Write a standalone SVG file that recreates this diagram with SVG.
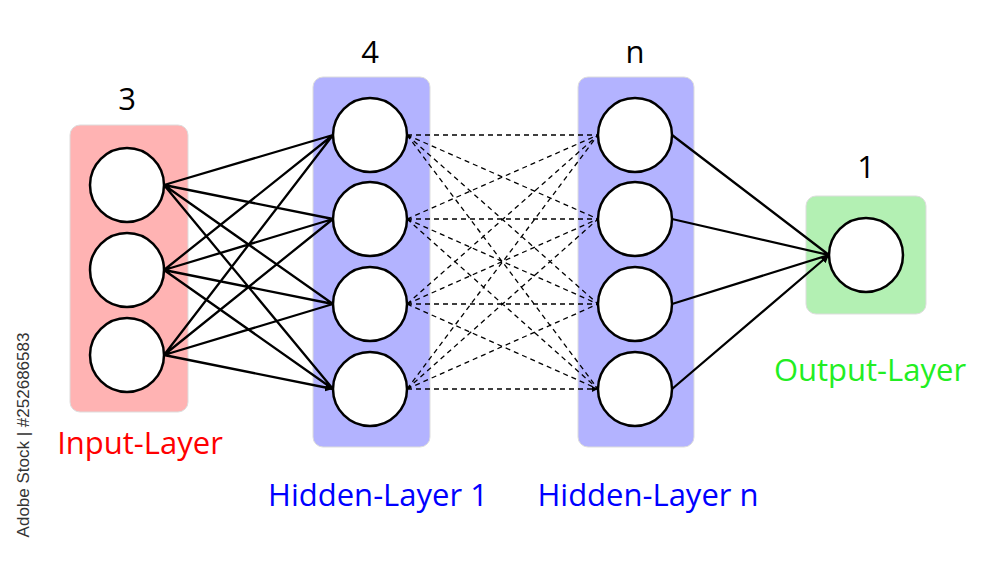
<svg xmlns="http://www.w3.org/2000/svg" width="1000" height="563" viewBox="0 0 1000 563">
<style>
.n{fill:#fff;stroke:#000;stroke-width:2.5}
.s{stroke:#000;stroke-width:2.3;fill:none;marker-end:url(#a)}
.d{stroke:#000;stroke-width:1.3;stroke-dasharray:5,4;fill:none;marker-end:url(#b)}
text{font-family:"Open Sans","Noto Sans",sans-serif;font-size:31px;text-anchor:middle}
</style>
<defs>
<marker id="a" viewBox="0 0 10 10" refX="10" refY="5" markerWidth="8" markerHeight="8" orient="auto" markerUnits="userSpaceOnUse" ><path d="M0,0L10,5L0,10z"/></marker>
<marker id="b" viewBox="0 0 10 10" refX="10" refY="5" markerWidth="6" markerHeight="6" orient="auto" markerUnits="userSpaceOnUse"><path d="M0,0L10,5L0,10z"/></marker>
</defs>
<rect width="1000" height="563" fill="#fff"/>
<g id="input"><rect x="70" y="125" width="118" height="287" rx="10" fill="#ffb3b3" stroke="#ddd"/>
<circle class="n" cx="127" cy="185" r="37"/><circle class="n" cx="127" cy="270" r="37"/><circle class="n" cx="127" cy="355" r="37"/>
<text x="127" y="110">3</text><text x="140" y="454" fill="#f00">Input-Layer</text></g>
<g id="hidden1"><rect x="313" y="77" width="117" height="370" rx="10" fill="#b3b3ff" stroke="#ddd"/>
<circle class="n" cx="370" cy="135" r="37"/><circle class="n" cx="370" cy="219" r="37"/><circle class="n" cx="370" cy="304" r="37"/><circle class="n" cx="370" cy="389" r="37"/>
<text x="370" y="63">4</text><text x="378" y="506" fill="#00f">Hidden-Layer 1</text></g>
<g id="hiddenn"><rect x="578" y="77" width="116" height="370" rx="10" fill="#b3b3ff" stroke="#ddd"/>
<circle class="n" cx="635" cy="135" r="37"/><circle class="n" cx="635" cy="219" r="37"/><circle class="n" cx="635" cy="304" r="37"/><circle class="n" cx="635" cy="389" r="37"/>
<text x="635" y="63">n</text><text x="648" y="506" fill="#00f">Hidden-Layer n</text></g>
<g id="output"><rect x="806" y="196" width="120" height="118" rx="10" fill="#b3f0b3" stroke="#ddd"/>
<circle class="n" cx="866" cy="255" r="37"/>
<text x="866" y="178">1</text><text x="870" y="381" fill="#2e2">Output-Layer</text></g>
<g id="connectors">
<path class="s" d="M164,185L333,135M164,185L333,219M164,185L333,304M164,185L333,389M164,270L333,135M164,270L333,219M164,270L333,304M164,270L333,389M164,355L333,135M164,355L333,219M164,355L333,304M164,355L333,389"/>
<path class="d" d="M407,135L598,135M407,135L598,219M407,135L598,304M407,135L598,389M407,219L598,135M407,219L598,219M407,219L598,304M407,219L598,389M407,304L598,135M407,304L598,219M407,304L598,304M407,304L598,389M407,389L598,135M407,389L598,219M407,389L598,304M407,389L598,389"/>
<path class="s" d="M672,135L829,255M672,219L829,255M672,304L829,255M672,389L829,255"/>
</g>
<text x="0" y="0" transform="translate(29,435) rotate(-90)" style="font-family:'Liberation Sans',sans-serif;font-size:17px" fill="#333">Adobe Stock | #252686583</text>
</svg>
